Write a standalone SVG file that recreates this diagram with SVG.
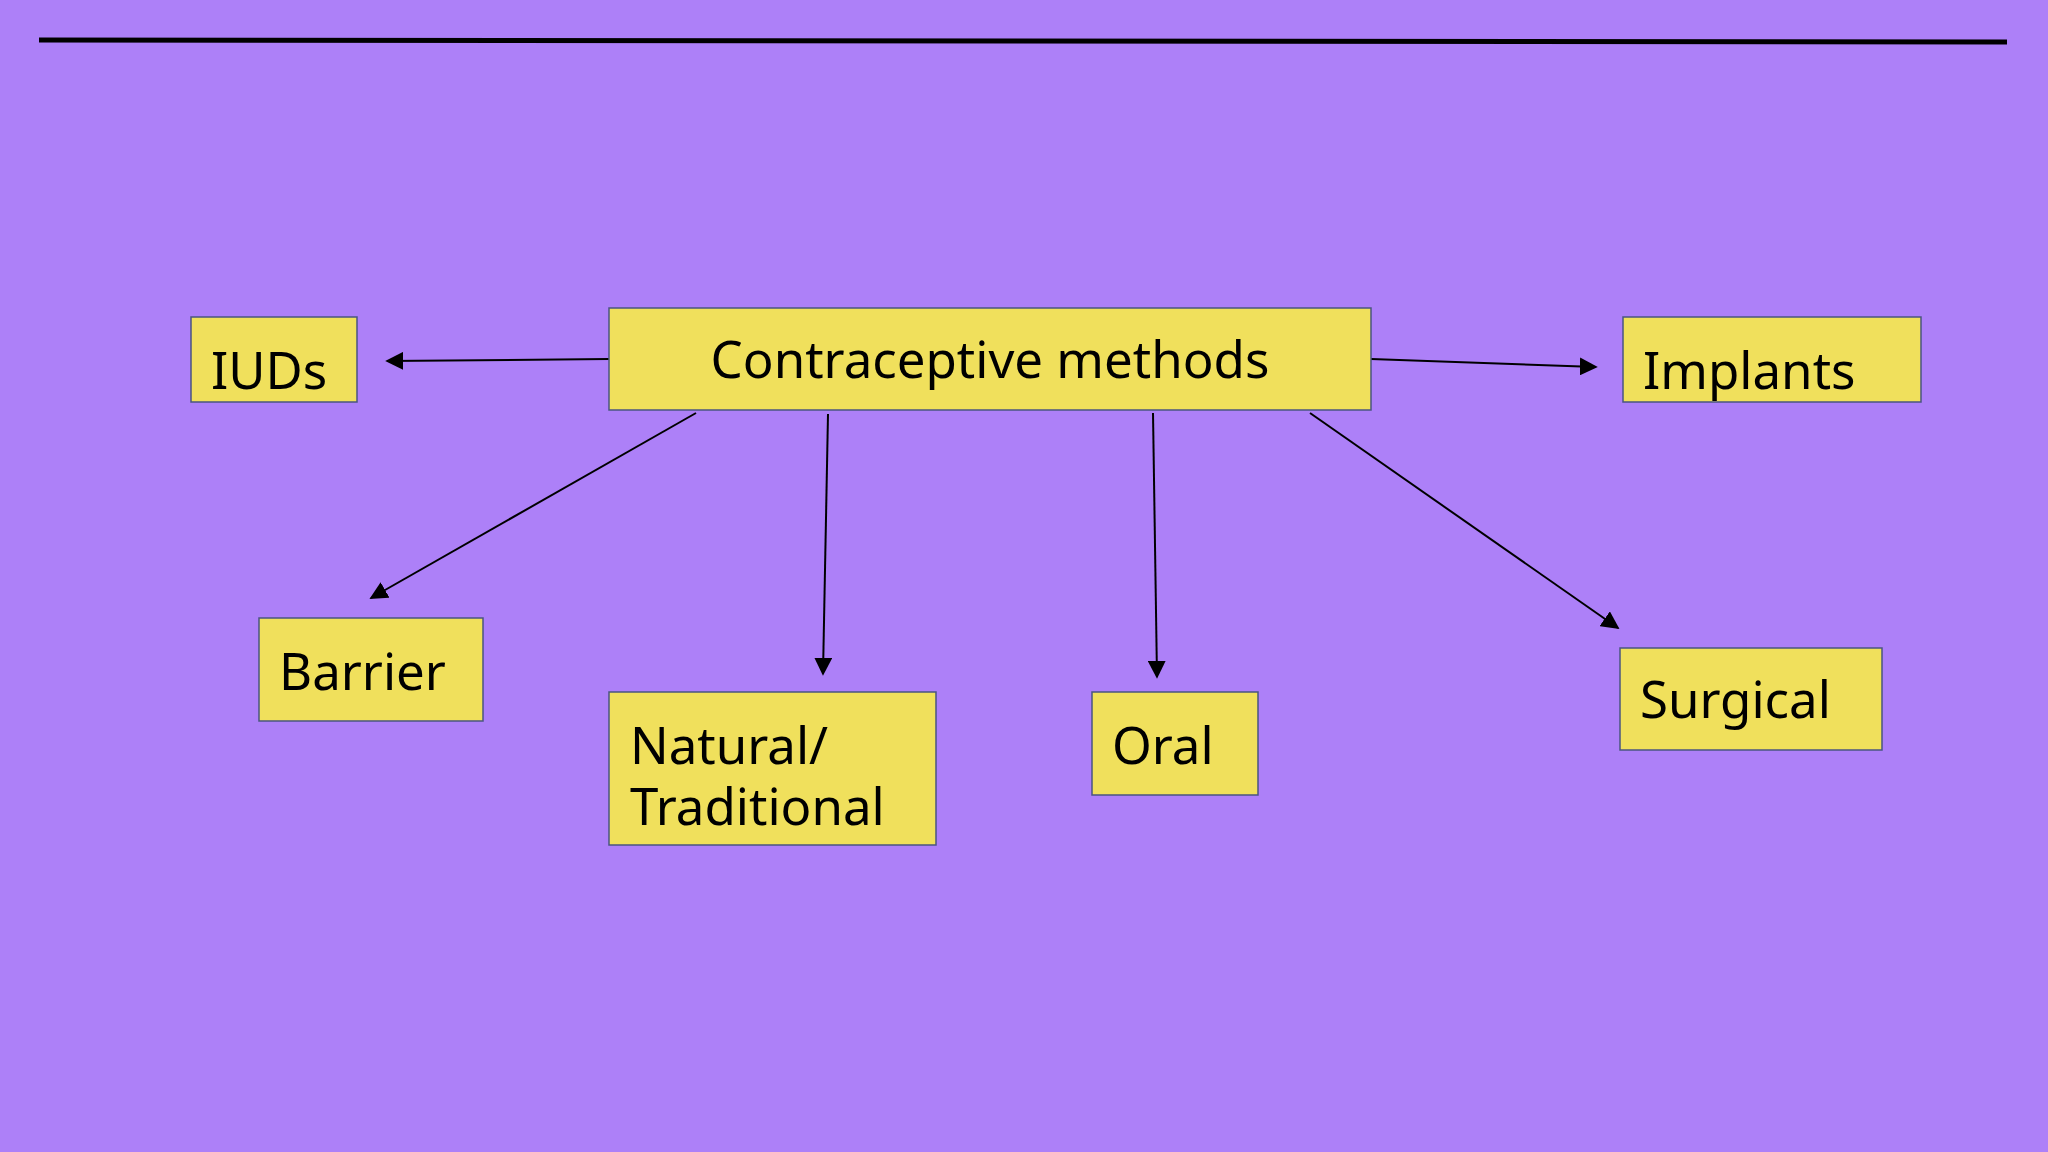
<svg xmlns="http://www.w3.org/2000/svg" width="2048" height="1152" viewBox="0 0 2048 1152">
<defs>
<style>
.box{fill:#f0e05c;stroke:#4a5580;stroke-width:1.5}
.t{font-family:"Noto Sans","Open Sans",sans-serif;font-size:51px;fill:#000}
.c{stroke:#000;stroke-width:2;fill:none;marker-end:url(#ah2)}
</style>
<marker id="ah2" viewBox="0 0 10 10" refX="9" refY="5" markerWidth="18" markerHeight="18" markerUnits="userSpaceOnUse" orient="auto"><path d="M0,0L10,5L0,10z" fill="#000"/></marker>
</defs>
<rect width="2048" height="1152" fill="#ad80f8"/>
<line x1="39" y1="40" x2="2007" y2="42" stroke="#000" stroke-width="5"/>
<g id="connectors">
<line class="c" x1="609" y1="359" x2="387" y2="361"/>
<line class="c" x1="1371" y1="359" x2="1596" y2="367"/>
<line class="c" x1="696" y1="413" x2="371" y2="598"/>
<line class="c" x1="828" y1="414" x2="823" y2="674"/>
<line class="c" x1="1153" y1="413" x2="1157" y2="677"/>
<line class="c" x1="1310" y1="413" x2="1618" y2="628"/>
</g>
<g id="center"><rect class="box" x="609" y="308" width="762" height="102"/><text class="t" x="990" y="378" text-anchor="middle">Contraceptive methods</text></g>
<g id="iuds"><rect class="box" x="191" y="317" width="166" height="85"/><text class="t" x="211" y="389">IUDs</text></g>
<g id="implants"><rect class="box" x="1623" y="317" width="298" height="85"/><text class="t" x="1643" y="389">Implants</text></g>
<g id="barrier"><rect class="box" x="259" y="618" width="224" height="103"/><text class="t" x="279" y="690">Barrier</text></g>
<g id="natural"><rect class="box" x="609" y="692" width="327" height="153"/><text class="t" x="630" y="764">Natural/</text><text class="t" x="630" y="825">Traditional</text></g>
<g id="oral"><rect class="box" x="1092" y="692" width="166" height="103"/><text class="t" x="1112" y="764">Oral</text></g>
<g id="surgical"><rect class="box" x="1620" y="648" width="262" height="102"/><text class="t" x="1640" y="718">Surgical</text></g>
</svg>
